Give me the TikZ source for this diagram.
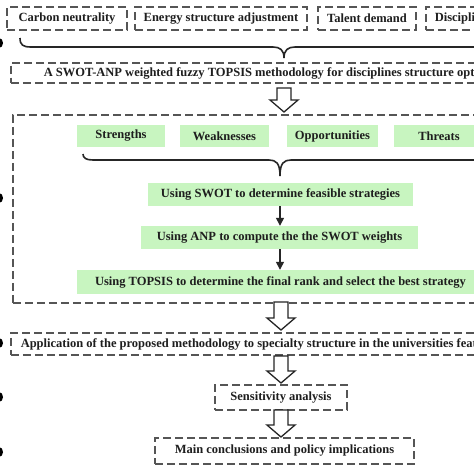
\documentclass[tikz,border=0pt]{standalone}
\usepackage{fontspec}
\setmainfont{Liberation Serif}
\usetikzlibrary{arrows.meta}
\definecolor{dashgray}{RGB}{85,85,85}
\definecolor{lgreen}{RGB}{200,245,192}
\definecolor{txt}{RGB}{30,30,30}
\newcommand\hollowarrow[3]{% x, ytop, ybot
  \draw[harr] ({#1-7},{#2}) -- ({#1+7},{#2}) -- ({#1+7},{#3-12}) -- ({#1+14},{#3-12})
    -- ({#1},{#3}) -- ({#1-14},{#3-12}) -- ({#1-7},{#3-12}) -- cycle;}
\begin{document}
\begin{tikzpicture}[x=1pt,y=-1pt,
  lbl/.style={font=\bfseries\fontsize{12.5}{14}\selectfont, text=txt},
  dbox/.style={lbl, draw=dashgray, line width=1.5pt, dash pattern=on 8pt off 4pt, inner sep=0pt},
  gbox/.style={lbl, fill=lgreen, inner sep=0pt},
  harr/.style={draw=black!85, line width=1.3pt, fill=white, line join=miter},
  brc/.style={draw=black!85, line width=1.6pt},
  thin/.style={draw=black!85, line width=1.4pt, -{Triangle[length=8pt,width=8pt]}}]
\useasboundingbox (0,0) rectangle (474,474);
\clip (0,0) rectangle (474,474);
\fill[white] (0,0) rectangle (474,474);

% top factor boxes
\node[dbox, minimum width=120pt, minimum height=23pt] (c1) at (67,18.5) {Carbon neutrality};
\node[dbox, minimum width=172pt, minimum height=23pt] (c2) at (221,18.5) {Energy structure adjustment};
\node[dbox, minimum width=98pt, minimum height=23pt] (c3) at (367,18.5) {Talent demand};
\node[dbox, minimum height=23pt, anchor=west, inner xsep=9pt] (c4) at (425,18.5) {Disciplines development};

% top brace
\draw[brc] (20,38) .. controls (20,45) and (23,47) .. (31,47) -- (273,47)
  .. controls (280,47) and (284,50) .. (284,58)
  .. controls (284,50) and (288,47) .. (295,47) -- (540,47);

% methodology box
\node[dbox, minimum height=20pt, anchor=west, inner xsep=33pt] (m) at (10,73)
  {A SWOT-ANP weighted fuzzy TOPSIS methodology for disciplines structure optimization};

\hollowarrow{284}{88}{112}

% big dashed frame
\node[draw=dashgray, line width=1.5pt, dash pattern=on 8pt off 4pt, inner sep=0pt,
  minimum width=500pt, minimum height=188pt, anchor=north west] (big) at (12,114) {};

% SWOT boxes
\node[gbox, minimum width=88pt, minimum height=22pt] (s) at (121,136) {Strengths};
\node[gbox, minimum width=89pt, minimum height=22pt] (w) at (224.5,136) {Weaknesses};
\node[gbox, minimum width=91pt, minimum height=22pt] (o) at (332.5,136) {Opportunities};
\node[gbox, minimum width=90pt, minimum height=22pt] (t) at (439,136) {Threats};

% middle brace
\draw[brc] (83,154) .. controls (83,158) and (86,160) .. (93,160) -- (269,160)
  .. controls (276,160) and (280,163) .. (280,176)
  .. controls (280,163) and (284,160) .. (291,160) -- (500,160);

\node[gbox, minimum width=265pt, minimum height=23pt] (u1) at (280.5,194.5) {Using SWOT to determine feasible strategies};
\node[gbox, minimum width=277pt, minimum height=23pt] (u2) at (279.5,237.5) {Using ANP to compute the the SWOT weights};
\node[gbox, minimum width=407pt, minimum height=24pt] (u3) at (280.5,282) {Using TOPSIS to determine the final rank and select the best strategy};

\draw[thin] (u1.south -| 280,0) -- (u2.north -| 280,0);
\draw[thin] (u2.south -| 280,0) -- (u3.north -| 280,0);

\hollowarrow{281}{302}{330}

\node[dbox, minimum height=22pt, anchor=west, inner xsep=10pt] (app) at (10,344)
  {Application of the proposed methodology to specialty structure in the universities featuring energy};

\hollowarrow{281}{356}{383}

\node[dbox, minimum width=132pt, minimum height=25pt] (sens) at (281,397.5) {Sensitivity analysis};

\hollowarrow{281}{410}{437}

\node[dbox, minimum width=259pt, minimum height=26pt] (mc) at (284.5,451) {Main conclusions and policy implications};

% clipped marks at left edge
\foreach \yy in {43,198,343,397,452} \fill[black] (-1,\yy) ellipse (4pt and 5pt);
\end{tikzpicture}
\end{document}
